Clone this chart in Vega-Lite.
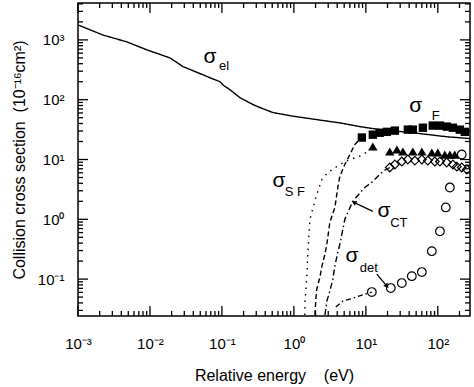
{
  "$schema": "https://vega.github.io/schema/vega-lite/v6.json",
  "width": 392,
  "height": 313,
  "autosize": {"type": "none"},
  "padding": {"left": 78, "top": 3, "right": 4, "bottom": 71},
  "background": "white",
  "config": {
    "view": {"stroke": "black", "strokeWidth": 1.5},
    "font": "Liberation Sans",
    "text": {"font": "Liberation Sans", "color": "black"},
    "axis": {"domain": false, "grid": false, "labelOverlap": false, "labelFlush": false, "labelBound": false}
  },
  "datasets": {
    "lines": [
      {"s": "el", "x": 0.001, "y": 1780}, {"s": "el", "x": 0.0022, "y": 1210}, {"s": "el", "x": 0.0048, "y": 925},
      {"s": "el", "x": 0.0091, "y": 680}, {"s": "el", "x": 0.019, "y": 500}, {"s": "el", "x": 0.0287, "y": 358},
      {"s": "el", "x": 0.0545, "y": 261}, {"s": "el", "x": 0.068, "y": 233}, {"s": "el", "x": 0.094, "y": 200},
      {"s": "el", "x": 0.104, "y": 175}, {"s": "el", "x": 0.129, "y": 147}, {"s": "el", "x": 0.178, "y": 108},
      {"s": "el", "x": 0.27, "y": 83}, {"s": "el", "x": 0.337, "y": 74}, {"s": "el", "x": 0.51, "y": 61},
      {"s": "el", "x": 0.97, "y": 53}, {"s": "el", "x": 2.08, "y": 46.4}, {"s": "el", "x": 4.35, "y": 41},
      {"s": "el", "x": 8.25, "y": 35.5}, {"s": "el", "x": 15.6, "y": 31.6}, {"s": "el", "x": 45, "y": 28},
      {"s": "el", "x": 133, "y": 24}, {"s": "el", "x": 280, "y": 22.4},
      {"s": "F", "x": 1.96, "y": 0.0251}, {"s": "F", "x": 2.02, "y": 0.0464}, {"s": "F", "x": 2.08, "y": 0.068},
      {"s": "F", "x": 2.3, "y": 0.108}, {"s": "F", "x": 2.45, "y": 0.165}, {"s": "F", "x": 2.7, "y": 0.261},
      {"s": "F", "x": 2.87, "y": 0.383}, {"s": "F", "x": 3.16, "y": 0.891}, {"s": "F", "x": 3.71, "y": 1.58},
      {"s": "F", "x": 4.08, "y": 3.41}, {"s": "F", "x": 4.35, "y": 5.21}, {"s": "F", "x": 5.1, "y": 8.25},
      {"s": "F", "x": 6.0, "y": 12.1}, {"s": "F", "x": 7.03, "y": 17.8}, {"s": "F", "x": 8.8, "y": 23.3},
      {"s": "SF", "x": 1.42, "y": 0.0251}, {"s": "SF", "x": 1.43, "y": 0.043}, {"s": "SF", "x": 1.47, "y": 0.068},
      {"s": "SF", "x": 1.52, "y": 0.121}, {"s": "SF", "x": 1.56, "y": 0.261}, {"s": "SF", "x": 1.62, "y": 0.562},
      {"s": "SF", "x": 1.67, "y": 1.0}, {"s": "SF", "x": 1.9, "y": 1.78}, {"s": "SF", "x": 2.08, "y": 2.61},
      {"s": "SF", "x": 2.45, "y": 4.64}, {"s": "SF", "x": 2.97, "y": 6.07}, {"s": "SF", "x": 4.35, "y": 8.25},
      {"s": "SF", "x": 6.0, "y": 10}, {"s": "SF", "x": 8.8, "y": 11.7}, {"s": "SF", "x": 12.5, "y": 15.8},
      {"s": "CT", "x": 2.7, "y": 0.0251}, {"s": "CT", "x": 2.87, "y": 0.043}, {"s": "CT", "x": 3.16, "y": 0.063},
      {"s": "CT", "x": 3.48, "y": 0.1}, {"s": "CT", "x": 3.71, "y": 0.165}, {"s": "CT", "x": 4.08, "y": 0.282},
      {"s": "CT", "x": 4.35, "y": 0.383}, {"s": "CT", "x": 4.95, "y": 0.825}, {"s": "CT", "x": 5.1, "y": 1.0},
      {"s": "CT", "x": 6.59, "y": 2.0}, {"s": "CT", "x": 9.69, "y": 3.41}, {"s": "CT", "x": 12.5, "y": 4.3},
      {"s": "CT", "x": 17.2, "y": 6.31}, {"s": "CT", "x": 21.5, "y": 7.36},
      {"s": "det", "x": 3.83, "y": 0.0341}, {"s": "det", "x": 4.8, "y": 0.043}, {"s": "det", "x": 6.0, "y": 0.0464},
      {"s": "det", "x": 8.8, "y": 0.054}, {"s": "det", "x": 12.1, "y": 0.0607}
    ],
    "squares": [
      {"x": 8.8, "y": 23.3}, {"x": 12.5, "y": 26}, {"x": 15.6, "y": 28},
      {"x": 19.6, "y": 29}, {"x": 25.3, "y": 30.4}, {"x": 38.3, "y": 31.6},
      {"x": 45, "y": 31.6}, {"x": 62, "y": 34}, {"x": 85, "y": 36.9},
      {"x": 107, "y": 36.9}, {"x": 133, "y": 35.5}, {"x": 162, "y": 34},
      {"x": 202, "y": 31.6}, {"x": 237, "y": 29}
    ],
    "triangles": [
      {"x": 12.5, "y": 16.5}, {"x": 21.5, "y": 13.6}, {"x": 27, "y": 14.7},
      {"x": 32.7, "y": 13.6}, {"x": 45, "y": 13.6}, {"x": 60, "y": 13.6},
      {"x": 82.5, "y": 13.1}, {"x": 100, "y": 13.1}, {"x": 125, "y": 12.1},
      {"x": 147, "y": 12.1}, {"x": 172, "y": 12.1}
    ],
    "diamonds": [
      {"x": 21.5, "y": 7.36}, {"x": 25.3, "y": 8.25}, {"x": 31.6, "y": 9.26},
      {"x": 38.3, "y": 10}, {"x": 48, "y": 9.6}, {"x": 60, "y": 10},
      {"x": 72.6, "y": 9.6}, {"x": 90.8, "y": 9.26}, {"x": 107, "y": 9.26},
      {"x": 133, "y": 8.9}, {"x": 162, "y": 8.25}, {"x": 184, "y": 7.6},
      {"x": 215, "y": 7.36}, {"x": 253, "y": 6.8}
    ],
    "circles": [
      {"x": 12.1, "y": 0.0607}, {"x": 22.2, "y": 0.0708}, {"x": 31.6, "y": 0.0858},
      {"x": 43.5, "y": 0.112}, {"x": 60, "y": 0.131}, {"x": 82.5, "y": 0.293},
      {"x": 107, "y": 0.63}, {"x": 129, "y": 1.58}, {"x": 147, "y": 3.4},
      {"x": 215, "y": 12.1}
    ],
    "labels": [
      {"k": "sigma", "t": "σ", "x": 0.068, "y": 521}, {"k": "sub", "t": "el", "x": 0.107, "y": 369},
      {"k": "sigma", "t": "σ", "x": 49.5, "y": 79.4}, {"k": "sub", "t": "F", "x": 93.8, "y": 54},
      {"k": "sigma", "t": "σ", "x": 0.619, "y": 4.3}, {"k": "sub", "t": "S F", "x": 1.03, "y": 2.82},
      {"k": "sigma", "t": "σ", "x": 17.8, "y": 1.36}, {"k": "sub", "t": "CT", "x": 28.7, "y": 0.858},
      {"k": "sigma", "t": "σ", "x": 6.39, "y": 0.242}, {"k": "sub", "t": "det", "x": 11.0, "y": 0.153}
    ],
    "arrows": [
      {"a": "CT", "x": 12.5, "y": 1.36, "x2": 6.81, "y2": 1.92},
      {"a": "det", "x": 14.2, "y": 0.121, "x2": 19.6, "y2": 0.0764}
    ],
    "xticks": [
      {"v": 0.001, "m": "major", "b": 0.02416, "t": 4140},
      {"v": 0.002, "m": "minor", "b": 0.02416, "t": 4140}, {"v": 0.003, "m": "minor", "b": 0.02416, "t": 4140},
      {"v": 0.004, "m": "minor", "b": 0.02416, "t": 4140}, {"v": 0.005, "m": "minor", "b": 0.02416, "t": 4140},
      {"v": 0.006, "m": "minor", "b": 0.02416, "t": 4140}, {"v": 0.007, "m": "minor", "b": 0.02416, "t": 4140},
      {"v": 0.008, "m": "minor", "b": 0.02416, "t": 4140}, {"v": 0.009, "m": "minor", "b": 0.02416, "t": 4140},
      {"v": 0.01, "m": "major", "b": 0.02416, "t": 4140},
      {"v": 0.02, "m": "minor", "b": 0.02416, "t": 4140}, {"v": 0.03, "m": "minor", "b": 0.02416, "t": 4140},
      {"v": 0.04, "m": "minor", "b": 0.02416, "t": 4140}, {"v": 0.05, "m": "minor", "b": 0.02416, "t": 4140},
      {"v": 0.06, "m": "minor", "b": 0.02416, "t": 4140}, {"v": 0.07, "m": "minor", "b": 0.02416, "t": 4140},
      {"v": 0.08, "m": "minor", "b": 0.02416, "t": 4140}, {"v": 0.09, "m": "minor", "b": 0.02416, "t": 4140},
      {"v": 0.1, "m": "major", "b": 0.02416, "t": 4140},
      {"v": 0.2, "m": "minor", "b": 0.02416, "t": 4140}, {"v": 0.3, "m": "minor", "b": 0.02416, "t": 4140},
      {"v": 0.4, "m": "minor", "b": 0.02416, "t": 4140}, {"v": 0.5, "m": "minor", "b": 0.02416, "t": 4140},
      {"v": 0.6, "m": "minor", "b": 0.02416, "t": 4140}, {"v": 0.7, "m": "minor", "b": 0.02416, "t": 4140},
      {"v": 0.8, "m": "minor", "b": 0.02416, "t": 4140}, {"v": 0.9, "m": "minor", "b": 0.02416, "t": 4140},
      {"v": 1, "m": "major", "b": 0.02416, "t": 4140},
      {"v": 2, "m": "minor", "b": 0.02416, "t": 4140}, {"v": 3, "m": "minor", "b": 0.02416, "t": 4140},
      {"v": 4, "m": "minor", "b": 0.02416, "t": 4140}, {"v": 5, "m": "minor", "b": 0.02416, "t": 4140},
      {"v": 6, "m": "minor", "b": 0.02416, "t": 4140}, {"v": 7, "m": "minor", "b": 0.02416, "t": 4140},
      {"v": 8, "m": "minor", "b": 0.02416, "t": 4140}, {"v": 9, "m": "minor", "b": 0.02416, "t": 4140},
      {"v": 10, "m": "major", "b": 0.02416, "t": 4140},
      {"v": 20, "m": "minor", "b": 0.02416, "t": 4140}, {"v": 30, "m": "minor", "b": 0.02416, "t": 4140},
      {"v": 40, "m": "minor", "b": 0.02416, "t": 4140}, {"v": 50, "m": "minor", "b": 0.02416, "t": 4140},
      {"v": 60, "m": "minor", "b": 0.02416, "t": 4140}, {"v": 70, "m": "minor", "b": 0.02416, "t": 4140},
      {"v": 80, "m": "minor", "b": 0.02416, "t": 4140}, {"v": 90, "m": "minor", "b": 0.02416, "t": 4140},
      {"v": 100, "m": "major", "b": 0.02416, "t": 4140},
      {"v": 200, "m": "minor", "b": 0.02416, "t": 4140}
    ],
    "yticks": [
      {"v": 0.03, "m": "minor", "l": 0.001, "r": 280}, {"v": 0.04, "m": "minor", "l": 0.001, "r": 280},
      {"v": 0.05, "m": "minor", "l": 0.001, "r": 280}, {"v": 0.06, "m": "minor", "l": 0.001, "r": 280},
      {"v": 0.07, "m": "minor", "l": 0.001, "r": 280}, {"v": 0.08, "m": "minor", "l": 0.001, "r": 280},
      {"v": 0.09, "m": "minor", "l": 0.001, "r": 280},
      {"v": 0.1, "m": "major", "l": 0.001, "r": 280},
      {"v": 0.2, "m": "minor", "l": 0.001, "r": 280}, {"v": 0.3, "m": "minor", "l": 0.001, "r": 280},
      {"v": 0.4, "m": "minor", "l": 0.001, "r": 280}, {"v": 0.5, "m": "minor", "l": 0.001, "r": 280},
      {"v": 0.6, "m": "minor", "l": 0.001, "r": 280}, {"v": 0.7, "m": "minor", "l": 0.001, "r": 280},
      {"v": 0.8, "m": "minor", "l": 0.001, "r": 280}, {"v": 0.9, "m": "minor", "l": 0.001, "r": 280},
      {"v": 1, "m": "major", "l": 0.001, "r": 280},
      {"v": 2, "m": "minor", "l": 0.001, "r": 280}, {"v": 3, "m": "minor", "l": 0.001, "r": 280},
      {"v": 4, "m": "minor", "l": 0.001, "r": 280}, {"v": 5, "m": "minor", "l": 0.001, "r": 280},
      {"v": 6, "m": "minor", "l": 0.001, "r": 280}, {"v": 7, "m": "minor", "l": 0.001, "r": 280},
      {"v": 8, "m": "minor", "l": 0.001, "r": 280}, {"v": 9, "m": "minor", "l": 0.001, "r": 280},
      {"v": 10, "m": "major", "l": 0.001, "r": 280},
      {"v": 20, "m": "minor", "l": 0.001, "r": 280}, {"v": 30, "m": "minor", "l": 0.001, "r": 280},
      {"v": 40, "m": "minor", "l": 0.001, "r": 280}, {"v": 50, "m": "minor", "l": 0.001, "r": 280},
      {"v": 60, "m": "minor", "l": 0.001, "r": 280}, {"v": 70, "m": "minor", "l": 0.001, "r": 280},
      {"v": 80, "m": "minor", "l": 0.001, "r": 280}, {"v": 90, "m": "minor", "l": 0.001, "r": 280},
      {"v": 100, "m": "major", "l": 0.001, "r": 280},
      {"v": 200, "m": "minor", "l": 0.001, "r": 280}, {"v": 300, "m": "minor", "l": 0.001, "r": 280},
      {"v": 400, "m": "minor", "l": 0.001, "r": 280}, {"v": 500, "m": "minor", "l": 0.001, "r": 280},
      {"v": 600, "m": "minor", "l": 0.001, "r": 280}, {"v": 700, "m": "minor", "l": 0.001, "r": 280},
      {"v": 800, "m": "minor", "l": 0.001, "r": 280}, {"v": 900, "m": "minor", "l": 0.001, "r": 280},
      {"v": 1000, "m": "major", "l": 0.001, "r": 280},
      {"v": 2000, "m": "minor", "l": 0.001, "r": 280}, {"v": 3000, "m": "minor", "l": 0.001, "r": 280},
      {"v": 4000, "m": "minor", "l": 0.001, "r": 280}
    ]
  },
  "layer": [
    {
      "data": {"name": "lines"},
      "mark": {"type": "line", "color": "black", "strokeWidth": 1.4, "clip": true},
      "encoding": {
        "x": {"field": "x", "type": "quantitative",
              "scale": {"type": "log", "domain": [0.001, 280], "nice": false},
              "axis": {"orient": "bottom", "ticks": false,
                       "values": [0.001, 0.01, 0.1, 1, 10, 100],
                       "labelExpr": "'10' + ['⁻³','⁻²','⁻¹','⁰','¹','²','³'][round(log(datum.value)/LN10)+3]",
                       "labelPadding": 20, "labelFontSize": 15, "labelColor": "black", "labelFont": "Liberation Sans",
                       "title": "Relative energy\u00a0\u00a0\u00a0 (eV)", "titleFontSize": 16, "titleFontWeight": "normal",
                       "titleColor": "black", "titleFont": "Liberation Sans", "titlePadding": 16}},
        "y": {"field": "y", "type": "quantitative",
              "scale": {"type": "log", "domain": [0.02416, 4140], "nice": false},
              "axis": {"orient": "left", "ticks": false,
                       "values": [0.1, 1, 10, 100, 1000],
                       "labelExpr": "'10' + ['⁻³','⁻²','⁻¹','⁰','¹','²','³'][round(log(datum.value)/LN10)+3]",
                       "labelPadding": 14, "labelFontSize": 15, "labelColor": "black", "labelFont": "Liberation Sans",
                       "title": "Collision cross section\u00a0\u00a0(10⁻¹⁶cm²)", "titleFontSize": 16, "titleFontWeight": "normal",
                       "titleColor": "black", "titleFont": "Liberation Sans", "titlePadding": 10}},
        "strokeDash": {"field": "s", "type": "nominal", "legend": null,
                       "scale": {"domain": ["el", "F", "SF", "CT", "det"],
                                 "range": [[1, 0], [5, 3], [1.5, 5], [6, 3, 1.5, 3], [5, 3, 1.5, 3]]}}
      }
    },
    {
      "data": {"name": "xticks"},
      "transform": [{"filter": "datum.m == 'major'"}],
      "mark": {"type": "point", "shape": "M0,0L0,-1", "filled": false, "color": "black", "opacity": 1, "strokeWidth": 1.3, "size": 400},
      "encoding": {
        "x": {"field": "v", "type": "quantitative", "axis": null},
        "y": {"field": "b", "type": "quantitative", "axis": null}
      }
    },
    {
      "data": {"name": "xticks"},
      "transform": [{"filter": "datum.m == 'minor'"}],
      "mark": {"type": "point", "shape": "M0,0L0,-1", "filled": false, "color": "black", "opacity": 1, "strokeWidth": 1.3, "size": 100},
      "encoding": {
        "x": {"field": "v", "type": "quantitative", "axis": null},
        "y": {"field": "b", "type": "quantitative", "axis": null}
      }
    },
    {
      "data": {"name": "xticks"},
      "transform": [{"filter": "datum.m == 'major'"}],
      "mark": {"type": "point", "shape": "M0,0L0,1", "filled": false, "color": "black", "opacity": 1, "strokeWidth": 1.3, "size": 400},
      "encoding": {
        "x": {"field": "v", "type": "quantitative", "axis": null},
        "y": {"field": "t", "type": "quantitative", "axis": null}
      }
    },
    {
      "data": {"name": "xticks"},
      "transform": [{"filter": "datum.m == 'minor'"}],
      "mark": {"type": "point", "shape": "M0,0L0,1", "filled": false, "color": "black", "opacity": 1, "strokeWidth": 1.3, "size": 100},
      "encoding": {
        "x": {"field": "v", "type": "quantitative", "axis": null},
        "y": {"field": "t", "type": "quantitative", "axis": null}
      }
    },
    {
      "data": {"name": "yticks"},
      "transform": [{"filter": "datum.m == 'major'"}],
      "mark": {"type": "point", "shape": "M0,0L1,0", "filled": false, "color": "black", "opacity": 1, "strokeWidth": 1.3, "size": 400},
      "encoding": {
        "x": {"field": "l", "type": "quantitative", "axis": null},
        "y": {"field": "v", "type": "quantitative", "axis": null}
      }
    },
    {
      "data": {"name": "yticks"},
      "transform": [{"filter": "datum.m == 'minor'"}],
      "mark": {"type": "point", "shape": "M0,0L1,0", "filled": false, "color": "black", "opacity": 1, "strokeWidth": 1.3, "size": 100},
      "encoding": {
        "x": {"field": "l", "type": "quantitative", "axis": null},
        "y": {"field": "v", "type": "quantitative", "axis": null}
      }
    },
    {
      "data": {"name": "yticks"},
      "transform": [{"filter": "datum.m == 'major'"}],
      "mark": {"type": "point", "shape": "M0,0L-1,0", "filled": false, "color": "black", "opacity": 1, "strokeWidth": 1.3, "size": 400},
      "encoding": {
        "x": {"field": "r", "type": "quantitative", "axis": null},
        "y": {"field": "v", "type": "quantitative", "axis": null}
      }
    },
    {
      "data": {"name": "yticks"},
      "transform": [{"filter": "datum.m == 'minor'"}],
      "mark": {"type": "point", "shape": "M0,0L-1,0", "filled": false, "color": "black", "opacity": 1, "strokeWidth": 1.3, "size": 100},
      "encoding": {
        "x": {"field": "r", "type": "quantitative", "axis": null},
        "y": {"field": "v", "type": "quantitative", "axis": null}
      }
    },
    {
      "data": {"name": "squares"},
      "mark": {"type": "point", "shape": "square", "filled": true, "color": "black", "opacity": 1, "size": 70, "clip": true},
      "encoding": {
        "x": {"field": "x", "type": "quantitative", "axis": null},
        "y": {"field": "y", "type": "quantitative", "axis": null}
      }
    },
    {
      "data": {"name": "triangles"},
      "mark": {"type": "point", "shape": "triangle-up", "filled": true, "color": "black", "opacity": 1, "size": 90, "clip": true},
      "encoding": {
        "x": {"field": "x", "type": "quantitative", "axis": null},
        "y": {"field": "y", "type": "quantitative", "axis": null}
      }
    },
    {
      "data": {"name": "diamonds"},
      "mark": {"type": "point", "shape": "diamond", "filled": false, "color": "black", "opacity": 1, "size": 75, "strokeWidth": 1.2, "clip": true},
      "encoding": {
        "x": {"field": "x", "type": "quantitative", "axis": null},
        "y": {"field": "y", "type": "quantitative", "axis": null}
      }
    },
    {
      "data": {"name": "circles"},
      "mark": {"type": "point", "shape": "circle", "filled": false, "color": "black", "opacity": 1, "size": 75, "strokeWidth": 1.2, "clip": true},
      "encoding": {
        "x": {"field": "x", "type": "quantitative", "axis": null},
        "y": {"field": "y", "type": "quantitative", "axis": null}
      }
    },
    {
      "data": {"name": "arrows"},
      "mark": {"type": "rule", "color": "black", "strokeWidth": 1.3},
      "encoding": {
        "x": {"field": "x", "type": "quantitative", "axis": null},
        "y": {"field": "y", "type": "quantitative", "axis": null},
        "x2": {"field": "x2"},
        "y2": {"field": "y2"}
      }
    },
    {
      "data": {"name": "arrows"},
      "transform": [{"filter": "datum.a == 'CT'"}],
      "mark": {"type": "point", "shape": "triangle-up", "filled": true, "color": "black", "opacity": 1, "size": 30, "angle": 295},
      "encoding": {
        "x": {"field": "x2", "type": "quantitative", "axis": null},
        "y": {"field": "y2", "type": "quantitative", "axis": null}
      }
    },
    {
      "data": {"name": "arrows"},
      "transform": [{"filter": "datum.a == 'det'"}],
      "mark": {"type": "point", "shape": "triangle-up", "filled": true, "color": "black", "opacity": 1, "size": 30, "angle": 140},
      "encoding": {
        "x": {"field": "x2", "type": "quantitative", "axis": null},
        "y": {"field": "y2", "type": "quantitative", "axis": null}
      }
    },
    {
      "data": {"name": "labels"},
      "transform": [{"filter": "datum.k == 'sigma'"}],
      "mark": {"type": "text", "fontSize": 21, "align": "center", "baseline": "middle", "color": "black"},
      "encoding": {
        "x": {"field": "x", "type": "quantitative", "axis": null},
        "y": {"field": "y", "type": "quantitative", "axis": null},
        "text": {"field": "t"}
      }
    },
    {
      "data": {"name": "labels"},
      "transform": [{"filter": "datum.k == 'sub'"}],
      "mark": {"type": "text", "fontSize": 13, "align": "center", "baseline": "middle", "color": "black"},
      "encoding": {
        "x": {"field": "x", "type": "quantitative", "axis": null},
        "y": {"field": "y", "type": "quantitative", "axis": null},
        "text": {"field": "t"}
      }
    }
  ],
  "resolve": {"axis": {"x": "independent", "y": "independent"}}
}
